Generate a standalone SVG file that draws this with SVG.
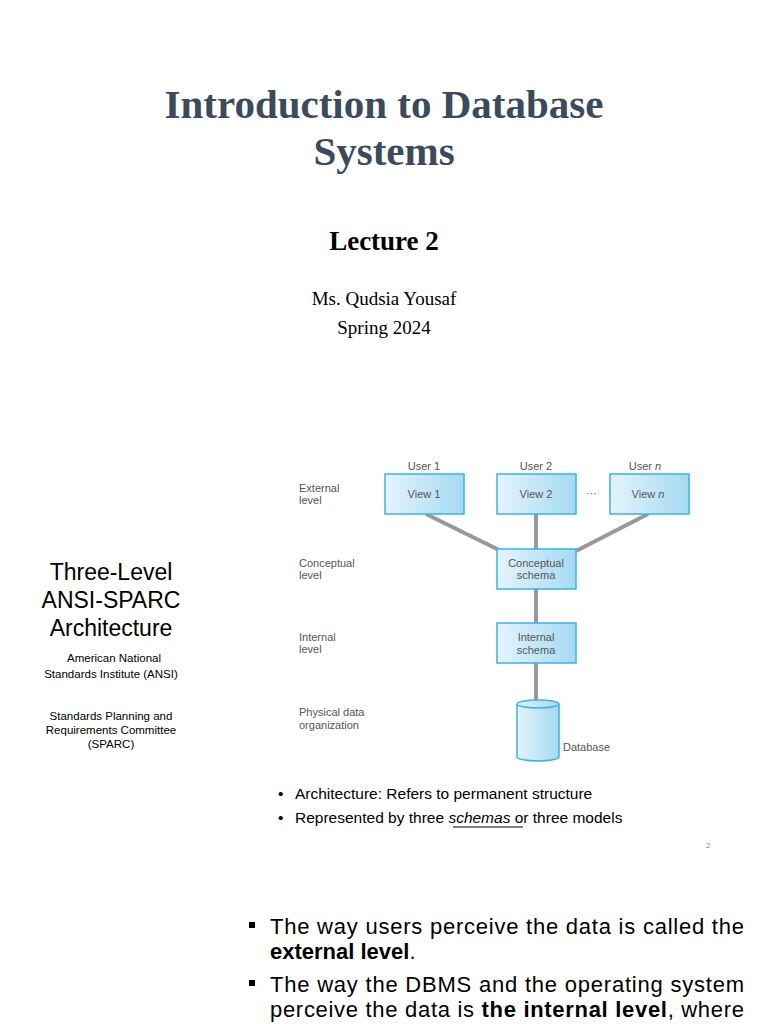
<svg xmlns="http://www.w3.org/2000/svg" width="768" height="1024" viewBox="0 0 768 1024">
<defs>
<linearGradient id="g" x1="0" y1="0" x2="1" y2="0"><stop offset="0" stop-color="#e4f4fc"/><stop offset="1" stop-color="#a4daf2"/></linearGradient>
<style>
.t{font-family:"Liberation Serif",serif}
.s{font-family:"Liberation Sans",Arial,sans-serif}
.box{fill:url(#g);stroke:#39b3ea;stroke-width:1.5}
.lb{font-family:"Liberation Sans",Arial,sans-serif;font-size:11px;fill:#555}
.ln{stroke:#999;stroke-width:4;fill:none}
</style>
</defs>
<rect width="768" height="1024" fill="#fff"/>
<text class="t" x="384" y="118" text-anchor="middle" font-size="41" font-weight="bold" fill="#3c4a5e">Introduction to Database</text>
<text class="t" x="384" y="165" text-anchor="middle" font-size="41" font-weight="bold" fill="#3c4a5e">Systems</text>
<text class="t" x="384" y="250" text-anchor="middle" font-size="27" font-weight="bold" fill="#000">Lecture 2</text>
<text class="t" x="384" y="305" text-anchor="middle" font-size="19">Ms. Qudsia Yousaf</text>
<text class="t" x="384" y="334" text-anchor="middle" font-size="19">Spring 2024</text>
<text class="s" x="111" y="580" text-anchor="middle" font-size="23">Three-Level</text>
<text class="s" x="111" y="608" text-anchor="middle" font-size="23">ANSI-SPARC</text>
<text class="s" x="111" y="636" text-anchor="middle" font-size="23">Architecture</text>
<text class="s" x="114" y="662" text-anchor="middle" font-size="11.5">American National</text>
<text class="s" x="111" y="678" text-anchor="middle" font-size="11.5">Standards Institute (ANSI)</text>
<text class="s" x="111" y="720" text-anchor="middle" font-size="11.5">Standards Planning and</text>
<text class="s" x="111" y="734" text-anchor="middle" font-size="11.5">Requirements Committee</text>
<text class="s" x="111" y="748" text-anchor="middle" font-size="11.5">(SPARC)</text>
<g class="lb">
<text x="299" y="492">External</text><text x="299" y="504">level</text>
<text x="299" y="567">Conceptual</text><text x="299" y="579">level</text>
<text x="299" y="641">Internal</text><text x="299" y="653">level</text>
<text x="299" y="716">Physical data</text><text x="299" y="729">organization</text>
<text x="424" y="470" text-anchor="middle">User 1</text>
<text x="536" y="470" text-anchor="middle">User 2</text>
<text x="645" y="470" text-anchor="middle">User <tspan font-style="italic">n</tspan></text>
<text x="563" y="751">Database</text>
<text x="586" y="497">···</text>
</g>
<g id="connectors">
<line class="ln" x1="426" y1="514" x2="499" y2="550"/>
<line class="ln" x1="536" y1="514" x2="536" y2="549"/>
<line class="ln" x1="648" y1="514" x2="576" y2="551"/>
<line class="ln" x1="536" y1="589" x2="536" y2="623"/>
<line class="ln" x1="536" y1="663" x2="536" y2="700"/>
</g>
<g id="view1"><rect class="box" x="385" y="474" width="79" height="40"/><text class="lb" x="424" y="498" text-anchor="middle">View 1</text></g>
<g id="view2"><rect class="box" x="497" y="474" width="79" height="40"/><text class="lb" x="536" y="498" text-anchor="middle">View 2</text></g>
<g id="viewn"><rect class="box" x="610" y="474" width="79" height="40"/><text class="lb" x="648" y="498" text-anchor="middle">View <tspan font-style="italic">n</tspan></text></g>
<g id="conceptual"><rect class="box" x="497" y="549" width="79" height="40"/><text class="lb" x="536" y="567" text-anchor="middle">Conceptual</text><text class="lb" x="536" y="579" text-anchor="middle">schema</text></g>
<g id="internal"><rect class="box" x="497" y="623" width="79" height="40"/><text class="lb" x="536" y="641" text-anchor="middle">Internal</text><text class="lb" x="536" y="654" text-anchor="middle">schema</text></g>
<g id="database">
<path class="box" d="M517 704 V757 A21 4 0 0 0 559 757 V704"/>
<ellipse class="box" cx="538" cy="704" rx="21" ry="4"/>
</g>
<g class="s" font-size="15.5">
<text x="278" y="799">•</text><text x="295" y="799">Architecture: Refers to permanent structure</text>
<text x="278" y="823">•</text><text x="295" y="823">Represented by three <tspan font-style="italic">schemas</tspan> or three models</text>
</g>
<line x1="453" y1="827" x2="523" y2="827" stroke="#000" stroke-width="1"/>
<text class="s" x="706" y="848" font-size="8" fill="#888">2</text>
<g class="s" font-size="22">
<rect x="249" y="922" width="6" height="6"/>
<text x="270" y="934" textLength="474" lengthAdjust="spacing">The way users perceive the data is called the</text>
<text x="270" y="959"><tspan font-weight="bold">external level</tspan>.</text>
<rect x="249" y="980" width="6" height="6"/>
<text x="270" y="992" textLength="474" lengthAdjust="spacing">The way the DBMS and the operating system</text>
<text x="270" y="1017" textLength="474" lengthAdjust="spacing">perceive the data is <tspan font-weight="bold">the internal level</tspan>, where</text>
</g>
</svg>
